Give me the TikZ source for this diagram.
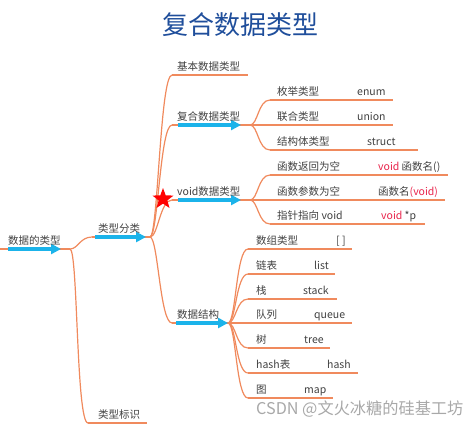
\documentclass[tikz,border=0pt]{standalone}
\usepackage{fontspec}
\setmainfont{Noto Sans CJK SC}
\usetikzlibrary{arrows.meta,shapes.geometric}
\definecolor{orng}{HTML}{F08A5D}
\definecolor{cyanA}{HTML}{1BB3EA}
\definecolor{txt}{HTML}{404040}
\definecolor{redv}{HTML}{E8234A}
\definecolor{ttl}{HTML}{1F4E9B}
\definecolor{wm}{HTML}{A8A8A8}
\tikzset{
  br/.style={draw=orng, line width=1.2pt},
  conn/.style={br, out=0, in=180, out distance=8pt, in distance=12pt},
  lbl/.style={anchor=base west, inner sep=0pt, text=txt, font=\fontsize{10.5}{12}\selectfont},
  arr/.style={draw=cyanA, line width=3.5pt, -{Triangle[length=10pt,width=10pt]}},
}
\begin{document}
\begin{tikzpicture}[x=1pt,y=-1pt]
\useasboundingbox (0,0) rectangle (474,424);
% title
\node[text=ttl, font=\fontsize{26}{30}\selectfont, inner sep=0pt] (title) at (240,25) {复合数据类型};
% ---------- coordinates of underlines ----------
\coordinate (rS) at (0,249);   \coordinate (rE) at (70,249);
\coordinate (flS) at (92,237); \coordinate (flE) at (150,237);
\coordinate (bsS) at (88,423); \coordinate (bsE) at (147,423);
\coordinate (jbS) at (172,75);  \coordinate (jbE) at (248,75);
\coordinate (fhS) at (172,125); \coordinate (fhE) at (250,125);
\coordinate (vdS) at (172,200); \coordinate (vdE) at (250,200);
\coordinate (sjS) at (172,323); \coordinate (sjE) at (228,323);
\coordinate (mjS) at (270,100); \coordinate (mjE) at (393,100);
\coordinate (lhS) at (270,125); \coordinate (lhE) at (393,125);
\coordinate (jgS) at (270,150); \coordinate (jgE) at (418,150);
\coordinate (fnS) at (270,175); \coordinate (fnE) at (448,175);
\coordinate (csS) at (270,200); \coordinate (csE) at (445,200);
\coordinate (zzS) at (270,224); \coordinate (zzE) at (425,224);
\coordinate (szS) at (248,249); \coordinate (szE) at (352,249);
\coordinate (lbS) at (248,274); \coordinate (lbE) at (335,274);
\coordinate (zhS) at (248,299); \coordinate (zhE) at (337,299);
\coordinate (dlS) at (248,323); \coordinate (dlE) at (352,323);
\coordinate (shS) at (248,348); \coordinate (shE) at (330,348);
\coordinate (hsS) at (248,373); \coordinate (hsE) at (358,373);
\coordinate (tuS) at (248,398); \coordinate (tuE) at (333,398);
% ---------- underlines ----------
\foreach \n in {r,fl,bs,jb,fh,vd,sj,mj,lh,jg,fn,cs,zz,sz,lb,zh,dl,sh,hs,tu}
  \draw[br] (\n S) -- (\n E);
% ---------- connectors ----------
\draw[conn] (rE) to (flS);
\draw[conn] (rE) to (bsS);
\foreach \c in {jb,fh,vd,sj} \draw[conn] (flE) to (\c S);
\foreach \c in {mj,lh,jg} \draw[conn] (fhE) to (\c S);
\foreach \c in {fn,cs,zz} \draw[conn] (vdE) to (\c S);
\foreach \c in {sz,lb,zh,dl,sh,hs,tu} \draw[conn] (sjE) to (\c S);
% ---------- arrows ----------
\coordinate (a1s) at (8,249);   \coordinate (a1e) at (61,249);
\coordinate (a2s) at (95,237);  \coordinate (a2e) at (146,237);
\coordinate (a3s) at (178,125); \coordinate (a3e) at (241,125);
\coordinate (a4s) at (178,200); \coordinate (a4e) at (241,200);
\coordinate (a5s) at (176,323); \coordinate (a5e) at (228,323);
\foreach \i in {1,...,5} \draw[arr] (a\i s) -- (a\i e);
% ---------- labels ----------
\node[lbl] (root) at (8,244.5) {数据的类型};
\node[lbl] (fl) at (98,232.5) {类型分类};
\node[lbl] (bs) at (98,418.5) {类型标识};
\node[lbl] (jb) at (177,70.5) {基本数据类型};
\node[lbl] (fh) at (177,120.5) {复合数据类型};
\node[lbl] (vd) at (177,195.5) {void数据类型};
\node[lbl] (sj) at (177,318.5) {数据结构};
\node[lbl] (mj) at (277,95.5) {枚举类型};
\node[lbl] (mj2) at (357,95.5) {enum};
\node[lbl] (lh) at (277,120.5) {联合类型};
\node[lbl] (lh2) at (357,120.5) {union};
\node[lbl] (jg) at (277,145.5) {结构体类型};
\node[lbl] (jg2) at (367,145.5) {struct};
\node[lbl] (fn) at (277,170.5) {函数返回为空};
\node[lbl] (fn2) at (378,170.5) {{\color{redv}void} 函数名()};
\node[lbl] (cs) at (277,195.5) {函数参数为空};
\node[lbl] (cs2) at (378,195.5) {函数名{\color{redv}(void)}};
\node[lbl] (zz) at (277,219.5) {指针指向 void};
\node[lbl] (zz2) at (381,219.5) {{\color{redv}void} *p};
\node[lbl] (sz) at (256,244.5) {数组类型};
\node[lbl] (sz2) at (336,244.5) {[ ]};
\node[lbl] (lb) at (256,269.5) {链表};
\node[lbl] (lb2) at (314,269.5) {list};
\node[lbl] (zh) at (256,294.5) {栈};
\node[lbl] (zh2) at (303,294.5) {stack};
\node[lbl] (dl) at (256,318.5) {队列};
\node[lbl] (dl2) at (314,318.5) {queue};
\node[lbl] (sh) at (256,343.5) {树};
\node[lbl] (sh2) at (304,343.5) {tree};
\node[lbl] (hs) at (256,368.5) {hash表};
\node[lbl] (hs2) at (327,368.5) {hash};
\node[lbl] (tu) at (256,393.5) {图};
\node[lbl] (tu2) at (304,393.5) {map};
% star
\node[star, star points=5, star point ratio=2.4, fill=red, inner sep=0pt, minimum size=22pt] (star) at (163,199) {};
% watermark
\node[anchor=base west, inner sep=0pt, text=wm, font=\fontsize{16.2}{19}\selectfont] (wmk) at (256,414) {CSDN @文火冰糖的硅基工坊};
\end{tikzpicture}
\end{document}
